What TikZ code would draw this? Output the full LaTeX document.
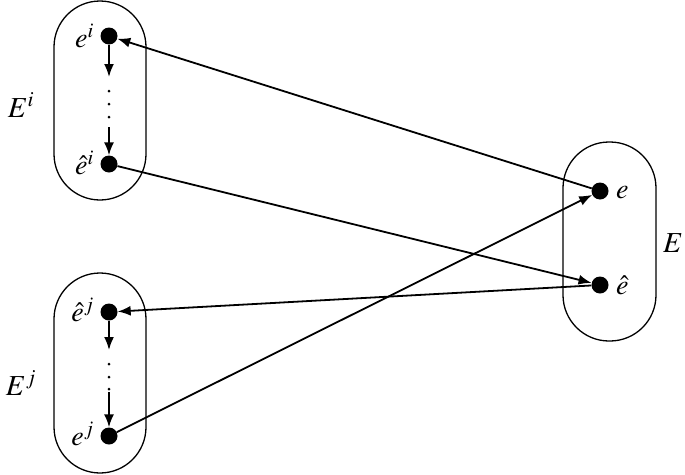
\documentclass[tikz,border=0pt]{standalone}
\usepackage{mathptmx}
\usetikzlibrary{arrows.meta}
\begin{document}
\begin{tikzpicture}[x=1pt,y=-1pt,
  pt/.style={circle,fill=black,inner sep=0pt,minimum size=17pt},
  dotsm/.style={circle,fill=black,inner sep=0pt,minimum size=3pt},
  capsule/.style={draw,line width=1.3pt,rounded corners=46pt},
  conn/.style={line width=1.8pt,-{Latex[length=13pt,width=10pt]}},
  lab/.style={font=\fontsize{28}{28}\selectfont,inner sep=0pt},
  biglab/.style={font=\fontsize{29}{29}\selectfont,inner sep=0pt}]
\useasboundingbox (0,0) rectangle (685,474);
% capsules
\draw[capsule] (54,1) rectangle (146,200);
\draw[capsule] (54,273) rectangle (146,473);
\draw[capsule] (563,142) rectangle (656,341);
% points
\node[pt] (ei) at (109,36) {};
\node[pt] (ehi) at (109,164) {};
\node[pt] (ehj) at (109,312) {};
\node[pt] (ej) at (109,436) {};
\node[pt] (e) at (600,191) {};
\node[pt] (eh) at (600,285) {};
% labels
\node[lab,anchor=east] (lei) at (94,36) {$e^i$};
\node[lab,anchor=east] (lehi) at (94,163) {$\hat e^i$};
\node[lab,anchor=east] (lehj) at (94,310) {$\hat e^j$};
\node[lab,anchor=east] (lej) at (94,434) {$e^j$};
\node[lab,anchor=west] (le) at (616,193) {$e$};
\node[lab,anchor=west] (leh) at (616,285) {$\hat e$};
\node[biglab] (LEi) at (21,105) {$E^i$};
\node[biglab] (LEj) at (21,383) {$E^j$};
\node[biglab] (LE) at (673,243) {$E$};
% vertical chains
\coordinate (a1) at (109,77);
\coordinate (a2) at (109,127);
\coordinate (b1) at (109,350);
\coordinate (b2) at (109,392);
\draw[conn] (ei) -- (a1);
\draw[conn] (a2) -- (ehi);
\draw[conn] (ehj) -- (b1);
\draw[conn] (b2) -- (ej);
\node[dotsm] (d1) at (109,91) {};
\node[dotsm] (d2) at (109,104) {};
\node[dotsm] (d3) at (109,117) {};
\node[dotsm] (d4) at (109,364) {};
\node[dotsm] (d5) at (109,377) {};
\node[dotsm] (d6) at (109,389) {};
% cross connectors
\draw[conn] (e) -- (ei);
\draw[conn] (ehi) -- (eh);
\draw[conn] (eh) -- (ehj);
\draw[conn] (ej) -- (e);
\end{tikzpicture}
\end{document}
